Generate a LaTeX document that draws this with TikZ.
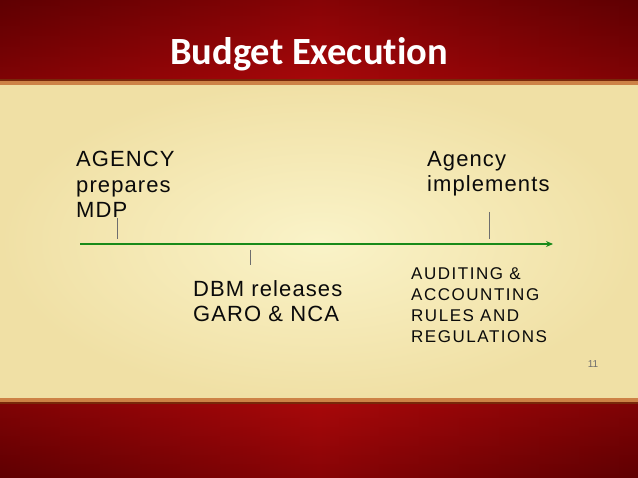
\documentclass[tikz,border=0pt]{standalone}
\usepackage{fontspec}
\setmainfont{Liberation Sans}
\newfontfamily\titlefont[Ligatures=NoCommon]{Carlito}
\usetikzlibrary{arrows.meta}
\definecolor{reddark}{RGB}{95,0,2}
\definecolor{redmid}{RGB}{168,8,10}
\definecolor{creamlight}{RGB}{250,243,200}
\definecolor{creamdark}{RGB}{240,224,165}
\definecolor{edgeorange}{RGB}{205,130,70}
\definecolor{edgebrown}{RGB}{120,40,10}
\definecolor{linegreen}{RGB}{25,138,25}
\definecolor{tickgray}{RGB}{110,110,110}
\definecolor{textdark}{RGB}{10,10,10}
\tikzset{
  label22/.style={anchor=base west, align=left, inner sep=0pt, text=textdark,
    font=\fontsize{22}{25.5}\selectfont\addfontfeature{LetterSpace=5}},
  label17/.style={anchor=base west, align=left, inner sep=0pt, text=textdark,
    font=\fontsize{17}{21}\selectfont\addfontfeature{LetterSpace=9}},
  tickline/.style={draw=tickgray, line width=0.8pt},
  timeline/.style={draw=linegreen, line width=2.8pt, -{Stealth[length=7pt,width=6pt]}}
}
\begin{document}
\begin{tikzpicture}[x=1pt,y=-1pt]
\useasboundingbox (0,0) rectangle (638,478);
% top red band
\shade[left color=reddark, right color=reddark, middle color=redmid] (0,0) rectangle (638,82);
\shade[top color=reddark, bottom color=redmid, opacity=0.45] (0,0) rectangle (638,82);
% bottom red band
\shade[left color=reddark, right color=reddark, middle color=redmid] (0,403) rectangle (638,478);
\shade[top color=redmid, bottom color=reddark, opacity=0.45] (0,403) rectangle (638,478);
% cream panel
\shade[inner color=creamlight, outer color=creamdark] (0,82) rectangle (638,401);
% edges
\fill[edgebrown] (0,79.5) rectangle (638,81);
\fill[edgeorange] (0,81) rectangle (638,85);
\fill[edgeorange] (0,398) rectangle (638,402);
\fill[edgebrown] (0,402) rectangle (638,404);
% title
\node[text=white, inner sep=0pt, anchor=base, font=\titlefont\bfseries\fontsize{38.5}{42}\selectfont] (title) at (309,65) {Budget Execution};
% timeline
\coordinate (tlstart) at (80,244);
\coordinate (tlend) at (553,244);
\draw[timeline] (tlstart) -- (tlend);
% ticks
\coordinate (t1a) at (117,218); \coordinate (t1b) at (117,239);
\coordinate (t2a) at (250,250); \coordinate (t2b) at (250,265);
\coordinate (t3a) at (489,212); \coordinate (t3b) at (489,239);
\draw[tickline] (t1a) -- (t1b);
\draw[tickline] (t2a) -- (t2b);
\draw[tickline] (t3a) -- (t3b);
% labels (anchored at the baseline of the last line)
\node[label22] (agency) at (76,218) {AGENCY\\prepares\\MDP};
\node[label22] (dbm) at (193,322) {DBM releases\\GARO \& NCA};
\node[label22] (impl) at (427,192) {Agency\\implements};
\node[label17] (audit) at (411,343) {AUDITING \&\\ACCOUNTING\\RULES AND\\REGULATIONS};
\node[anchor=base, inner sep=0pt, text=tickgray, font=\fontsize{10}{12}\selectfont] (pnum) at (593,368) {11};
\end{tikzpicture}
\end{document}
